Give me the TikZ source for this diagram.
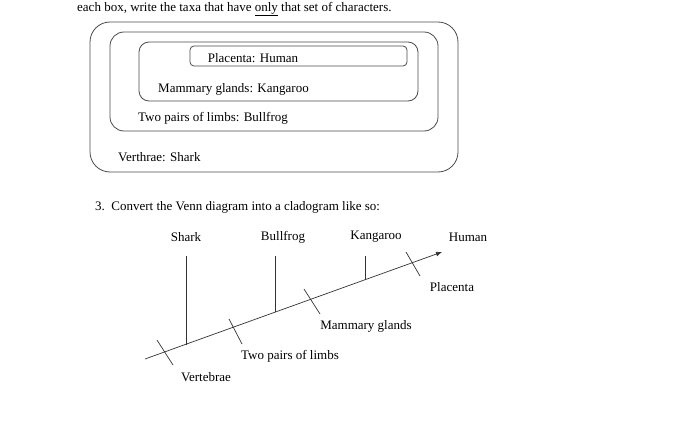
\documentclass[tikz,border=0pt]{standalone}
\usepackage{fontspec}
\setmainfont{Liberation Serif}
\usetikzlibrary{arrows.meta}
\begin{document}
\begin{tikzpicture}[x=1pt,y=-1pt,
  box/.style={draw=black!70,line width=0.8pt,rounded corners=#1},
  txt/.style={font=\fontsize{13}{15}\selectfont,inner sep=0pt},
  ln/.style={draw=black!80,line width=0.7pt}]
\useasboundingbox[fill=white] (0,0) rectangle (700,425);
\node[txt,anchor=west] (hdr) at (77,9) {each box, write the taxa that have \underline{only} that set of characters.};
\draw[box=20] (90,22) rectangle (458,172);
\draw[box=14] (110,32) rectangle (438,131);
\draw[box=10] (139,42) rectangle (418,101);
\draw[box=4] (190,46) rectangle (407,66);
\node[txt] (pl) at (253,58) {Placenta: Human};
\node[txt,anchor=west] (mg) at (158,89) {Mammary glands: Kangaroo};
\node[txt,anchor=west] (tp) at (138,118) {Two pairs of limbs: Bullfrog};
\node[txt,anchor=west] (vs) at (118,157) {Verthrae:  Shark};
\node[txt,anchor=west] (q3) at (95,207) {3.\ \ Convert the Venn diagram into a cladogram like so:};
\node[txt] (shark) at (186,237) {Shark};
\node[txt] (frog) at (283,237) {Bullfrog};
\node[txt] (kang) at (376,237) {Kangaroo};
\node[txt] (hum) at (468,237) {Human};
\coordinate (s) at (145,359);
\coordinate (e) at (442,252);
\draw[ln,-{Latex[length=6pt,width=5pt]}] (s) -- (e);
\coordinate (b1) at (186,345); \coordinate (t1) at (186,256);
\coordinate (b2) at (275,312); \coordinate (t2) at (275,256);
\coordinate (b3) at (365,280); \coordinate (t3) at (365,256);
\draw[ln] (b1) -- (t1); \draw[ln] (b2) -- (t2); \draw[ln] (b3) -- (t3);
\draw[ln] (157,340) -- (173,365);
\draw[ln] (229,319) -- (242,344);
\draw[ln] (304,289) -- (320,314);
\draw[ln] (406,252) -- (420,276);
\node[txt] (vt) at (206,377) {Vertebrae};
\node[txt] (tpl) at (290,356) {Two pairs of limbs};
\node[txt] (mgl) at (366,326) {Mammary glands};
\node[txt] (plc) at (452,287) {Placenta};
\end{tikzpicture}
\end{document}
